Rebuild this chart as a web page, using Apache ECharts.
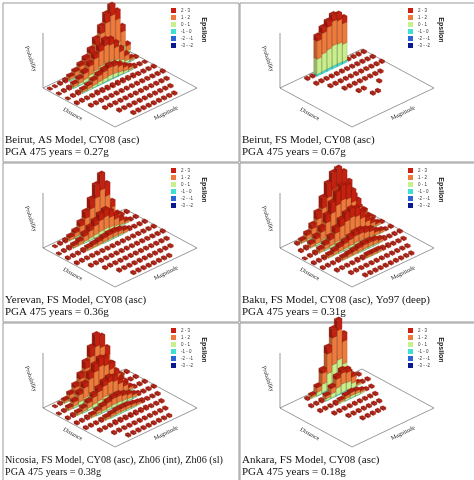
<!DOCTYPE html>
<html><head><meta charset="utf-8">
<script src="https://cdn.jsdelivr.net/npm/echarts@6/dist/echarts.min.js"></script>
<style>html,body{margin:0;padding:0;background:#fff}#c{width:474px;height:480px}</style>
</head><body><div id="c"></div>
<script>
var epsLabels = ["2 - 3", "1 - 2", "0 - 1", "-1 - 0", "-2 - -1", "-3 - -2"];
var epsColors = ["#c8200f", "#ee7a3c", "#c9ef8c", "#3fe0d2", "#2a64d8", "#0a1890"];
var titles = [
  ["Beirut, AS Model, CY08 (asc)", "PGA 475 years = 0.27g"],
  ["Beirut, FS Model, CY08 (asc)", "PGA 475 years = 0.67g"],
  ["Yerevan, FS Model, CY08 (asc)", "PGA 475 years = 0.36g"],
  ["Baku, FS Model, CY08 (asc), Yo97 (deep)", "PGA 475 years = 0.31g"],
  ["Nicosia, FS Model, CY08 (asc), Zh06 (int), Zh06 (sl)", "PGA 475 years = 0.38g"],
  ["Ankara, FS Model, CY08 (asc)", "PGA 475 years = 0.18g"]
];
// heights per distance row, 16 magnitude bins
var heights1 = [
  [1,1,2,3,5,8,12,16,22,30,40,50,56,48,30,10],
  [1,2,3,5,8,12,18,24,30,34,32,26,18,10,4,2],
  [1,2,3,4,6,9,12,14,16,15,12,8,5,3,2,1],
  [2,2,2,2,3,3,3,3,3,3,3,3,2,2,2,2],
  [0,2,2,2,2,2,2,2,2,2,2,2,2,2,2,2],
  [0,0,2,2,2,2,2,2,2,2,2,2,2,2,2,0],
  [0,0,0,2,2,2,2,2,2,2,2,2,2,2,0,0],
  [0,0,0,0,2,2,2,2,2,2,2,2,2,0,0,0]
];
var heights2 = [
  [0,0,0,0,2,2,40,46,50,54,52,46,2,2,2,2],
  [0,0,0,0,2,2,2,2,2,2,2,2,2,2,2,2],
  [0,0,0,0,0,2,2,2,2,2,2,2,2,2,2,2],
  [0,0,0,0,0,0,2,2,2,2,2,2,2,2,0,0],
  [0,0,0,0,0,0,0,2,2,0,0,2,0,0,0,0],
  [0,0,0,0,0,0,0,0,2,2,0,0,0,0,0,0],
  [0,0,0,0,0,0,0,0,0,0,0,0,0,0,0,0],
  [0,0,0,0,0,0,0,0,0,0,0,0,0,0,0,0]
];
var heights3 = [
  [0,1,2,3,5,8,14,22,32,44,52,40,20,6,2,2],
  [1,2,3,4,6,10,14,18,22,24,20,14,8,4,2,2],
  [2,2,2,3,4,5,6,7,8,8,7,5,3,2,2,2],
  [2,2,2,2,2,2,2,2,2,2,2,2,2,2,2,2],
  [0,2,2,2,2,2,2,2,2,2,2,2,2,2,2,2],
  [0,0,2,2,2,2,2,2,2,2,2,2,2,2,2,0],
  [0,0,0,2,2,2,2,2,2,2,2,2,2,2,0,0],
  [0,0,0,0,2,2,2,2,2,2,2,2,0,0,0,0]
];
var heights4 = [
  [0,0,2,4,8,14,24,36,48,56,58,52,40,24,10,4],
  [0,2,3,6,10,16,26,36,44,48,46,38,26,14,6,2],
  [1,2,3,5,8,12,18,24,28,30,28,22,14,8,4,2],
  [2,2,3,4,6,8,10,12,14,14,12,10,6,4,2,2],
  [2,2,2,3,4,5,6,7,8,8,7,5,3,2,2,2],
  [0,2,2,2,2,3,3,4,4,4,3,3,2,2,2,0],
  [0,0,2,2,2,2,2,2,2,2,2,2,2,2,0,0],
  [0,0,0,2,2,2,2,2,2,2,2,2,2,0,0,0]
];
var heights5 = [
  [0,1,2,4,8,14,22,32,44,54,50,36,18,6,2,2],
  [1,2,4,8,14,20,28,34,38,36,28,18,8,3,2,2],
  [2,3,4,6,10,14,18,22,24,22,16,10,5,2,2,2],
  [2,2,3,4,6,8,10,12,12,10,8,5,3,2,2,2],
  [2,2,2,3,4,5,6,6,6,5,4,3,2,2,2,0],
  [0,2,2,2,3,3,3,3,3,3,3,2,2,2,0,0],
  [0,0,2,2,2,2,2,2,2,2,2,2,2,0,0,0],
  [0,0,0,2,2,2,2,2,2,2,2,2,0,0,0,0]
];
var heights6 = [
  [0,0,0,0,2,4,10,24,44,60,66,50,10,2,2,0],
  [0,0,0,2,2,3,6,12,20,24,22,14,4,2,2,0],
  [0,0,0,2,2,2,3,4,6,7,6,4,2,2,0,0],
  [0,0,0,0,2,2,2,2,2,2,2,2,2,0,0,0],
  [0,0,0,0,0,2,2,2,2,2,2,2,0,0,0,0],
  [0,0,0,0,0,0,2,2,2,2,2,0,0,0,0,0],
  [0,0,0,0,0,0,0,0,0,0,0,0,0,0,0,0],
  [0,0,0,0,0,0,0,0,0,0,0,0,0,0,0,0]
];
// epsilon split [2-3, 1-2, 0-1, -1-0] for each panel
var split1 = [0.18, 0.5, 0.25, 0.07];
var split2 = [0.12, 0.45, 0.38, 0.05];
var split3 = [0.3, 0.5, 0.17, 0.03];
var split4 = [0.3, 0.5, 0.17, 0.03];
var split5 = [0.22, 0.5, 0.23, 0.05];
var split6 = [0.15, 0.45, 0.35, 0.05];

var allHeights = [heights1, heights2, heights3, heights4, heights5, heights6];
var allSplits = [split1, split2, split3, split4, split5, split6];

var PW = 237, PH = 160;
var G = {Lx: 43, Ly: 88, Mx: 82, My: -39, Dx: 72, Dy: 39};

function segments(h, split) {
  var out = [];
  for (var j = 0; j < h.length; j++) {
    for (var i = h[j].length - 1; i >= 0; i--) {
      var v = h[j][i];
      if (!v) continue;
      if (v <= 3) { out.push([i, j, 0, v, 0, 1]); continue; }
      var z = 0;
      for (var k = 3; k >= 0; k--) {
        var t = v * split[k];
        if (t > 0.2) { out.push([i, j, z, z + t, k, 0]); z += t; }
      }
    }
  }
  return out;
}
function shade(c, f) {
  var n = parseInt(c.slice(1), 16);
  var r = Math.round(((n >> 16) & 255) * f), g = Math.round(((n >> 8) & 255) * f), b = Math.round((n & 255) * f);
  return "rgb(" + r + "," + g + "," + b + ")";
}

var grids = [], xAxes = [], yAxes = [], series = [], graphics = [];
for (var p = 0; p < 6; p++) {
  var col = p % 2, row = Math.floor(p / 2);
  var ox = col * PW, oy = row * PH;
  grids.push({left: ox, top: oy, width: PW, height: PH});
  xAxes.push({type: "value", gridIndex: p, min: 0, max: PW, show: false});
  yAxes.push({type: "value", gridIndex: p, min: 0, max: PH, inverse: true, show: false});
  // frame
  series.push({
    type: "custom", xAxisIndex: p, yAxisIndex: p, silent: true,
    data: [0],
    renderItem: function (params, api) {
      function P(m, d, z) { return api.coord([G.Lx + m * G.Mx + d * G.Dx, G.Ly + m * G.My + d * G.Dy - (z || 0)]); }
      var ls = {stroke: "#555", lineWidth: 0.6, fill: null};
      var ch = [
        {type: "polygon", shape: {points: [P(0,0), P(1,0), P(1,1), P(0,1)]}, style: ls},
        {type: "line", shape: {x1: P(0,0)[0], y1: P(0,0)[1], x2: P(0,0,55)[0], y2: P(0,0,55)[1]}, style: ls},
        {type: "text", x: P(-0.12,0.55)[0], y: P(-0.12,0.55)[1], rotation: -0.5,
          style: {text: "Distance", fontSize: 6, fontFamily: "Liberation Serif", fill: "#222", align: "center", verticalAlign: "middle"}},
        {type: "text", x: P(0.5,1.14)[0], y: P(0.5,1.14)[1], rotation: 0.45,
          style: {text: "Magnitude", fontSize: 6, fontFamily: "Liberation Serif", fill: "#222", align: "center", verticalAlign: "middle"}},
        {type: "text", x: P(-0.15,0,35)[0], y: P(-0.15,0,35)[1], rotation: -1.25,
          style: {text: "Probability", fontSize: 6, fontFamily: "Liberation Serif", fill: "#222", align: "center", verticalAlign: "middle"}}
      ];
      return {type: "group", children: ch};
    }
  });
  series.push({
    type: "custom", xAxisIndex: p, yAxisIndex: p, silent: true,
    data: segments(allHeights[p], allSplits[p]),
    renderItem: function (params, api) {
      var i = api.value(0), j = api.value(1), z0 = api.value(2), z1 = api.value(3), k = api.value(4), small = api.value(5);
      var gap = small ? 0.25 : 0.05;
      var m0 = (i + gap) / 16, m1 = (i + 1 - gap) / 16, d0 = (j + 0.3) / 8, d1 = (j + 0.65) / 8;
      function P(m, d, z) { return api.coord([G.Lx + m * G.Mx + d * G.Dx, G.Ly + m * G.My + d * G.Dy - z]); }
      var c = epsColors[k];
      return {type: "group", children: [
        {type: "polygon", shape: {points: [P(m0,d1,z0), P(m1,d1,z0), P(m1,d1,z1), P(m0,d1,z1)]}, style: {fill: c, stroke: shade(c, 0.65), lineWidth: 0.3}},
        {type: "polygon", shape: {points: [P(m0,d0,z0), P(m0,d1,z0), P(m0,d1,z1), P(m0,d0,z1)]}, style: {fill: shade(c, 0.75), stroke: shade(c, 0.6), lineWidth: 0.3}},
        {type: "polygon", shape: {points: [P(m0,d0,z1), P(m1,d0,z1), P(m1,d1,z1), P(m0,d1,z1)]}, style: {fill: shade(c, 0.9), stroke: shade(c, 0.6), lineWidth: 0.3}}
      ]};
    }
  });
  // legend
  for (var e = 0; e < 6; e++) {
    graphics.push({type: "rect", left: ox + 171, top: oy + 8 + e * 7, shape: {width: 5, height: 5}, style: {fill: epsColors[e]}});
    graphics.push({type: "text", left: ox + 181, top: oy + 8 + e * 7, style: {text: epsLabels[e], fontSize: 4.5, fill: "#333", fontFamily: "Liberation Sans"}});
  }
  graphics.push({type: "text", x: ox + 204, y: oy + 30, rotation: -Math.PI / 2,
    style: {text: "Epsilon", fontSize: 7, fill: "#222", fontFamily: "Liberation Sans", fontWeight: "bold", align: "center", verticalAlign: "middle"}});
  graphics.push({type: "text", left: ox + 5, top: oy + 134, style: {text: titles[p][0] + "\n" + titles[p][1], fontSize: titles[p][0].length > 45 ? 10.2 : 11, lineHeight: 12, fill: "#111", fontFamily: "Liberation Serif"}});
  graphics.push({type: "rect", left: ox + 0.5, top: oy + 0.5, shape: {width: PW - 1, height: PH - 1}, style: {fill: null, stroke: "#999", lineWidth: 1}});
}

var chart = echarts.init(document.getElementById("c"));
chart.setOption({animation: false, grid: grids, xAxis: xAxes, yAxis: yAxes, series: series, graphic: graphics});
</script></body></html>
